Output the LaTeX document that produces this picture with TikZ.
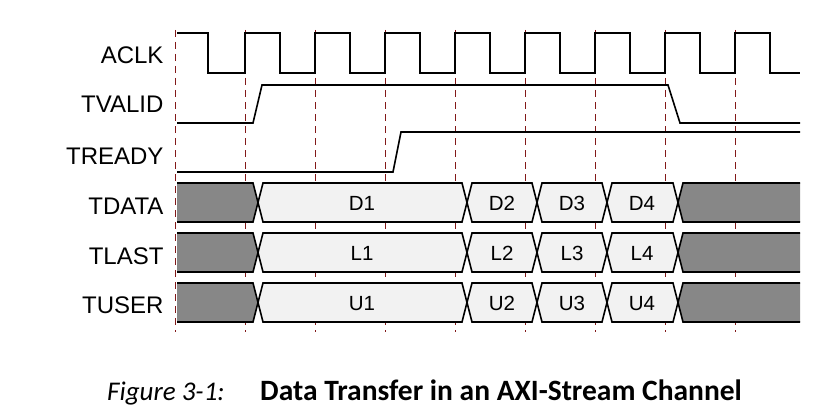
\documentclass[tikz,border=0pt]{standalone}
\usepackage{fontspec}
\setmainfont{Liberation Sans}
\newfontfamily\capfont{Carlito}
\definecolor{gridred}{RGB}{130,25,25}
\begin{document}
\begin{tikzpicture}[x=1pt,y=-1pt,
  wave/.style={line width=1.6pt,line join=miter},
  grid/.style={draw=gridred,line width=0.9pt,dash pattern=on 7pt off 5pt},
  sig/.style={anchor=base east,font=\fontsize{24}{24}\selectfont},
  val/.style={anchor=base,font=\fontsize{20.5}{20}\selectfont},
  busv/.style={draw=black,line width=1.6pt,fill=gray!10,line join=miter}]
\useasboundingbox (0,0) rectangle (833,412);
\foreach \x in {175,245,...,735} \draw[grid] (\x,30) -- (\x,332);
% labels
\node[sig] (aclk) at (167,64) {ACLK};
\node[sig] (tvalid) at (167,113) {TVALID};
\node[sig] (tready) at (167,164) {TREADY};
\node[sig] (tdata) at (167,214) {TDATA};
\node[sig] (tlast) at (167,264) {TLAST};
\node[sig] (tuser) at (167,313) {TUSER};
% clock
\draw[wave] (177,33) -- (208,33) -- (208,73) -- (245,73)
  \foreach \x in {245,315,385,455,525,595,665} { -- (\x,33) -- (\x+35,33) -- (\x+35,73) -- (\x+70,73) }
  -- (735,33) -- (770,33) -- (770,73) -- (800,73);
\draw[wave] (177,123) -- (253,123) -- (262,85) -- (668,85) -- (680,123) -- (800,123);
\draw[wave] (177,172) -- (393,172) -- (401,132) -- (800,132);
% buses
\foreach \t/\b in {183/222,233/272,283/322}{
  \pgfmathsetmacro{\m}{(\t+\b)/2}
  \fill[black!47] (177,\t) -- (253,\t) -- (258,\m) -- (253,\b) -- (177,\b) -- cycle;
  \draw[wave] (177,\t) -- (253,\t) -- (258,\m) -- (253,\b) -- (177,\b);
  \fill[black!47] (800,\t) -- (683,\t) -- (678,\m) -- (683,\b) -- (800,\b) -- cycle;
  \draw[wave] (800,\t) -- (683,\t) -- (678,\m) -- (683,\b) -- (800,\b);
  \foreach \a/\c in {258/467,467/537,537/607,607/678}{
    \draw[busv] (\a,\m) -- (\a+5,\t) -- (\c-5,\t) -- (\c,\m) -- (\c-5,\b) -- (\a+5,\b) -- cycle;
  }
}
\node[val] (d1) at (362,210) {D1};
\node[val] (d2) at (502,210) {D2};
\node[val] (d3) at (572,210) {D3};
\node[val] (d4) at (642,210) {D4};
\node[val] (l1) at (362,260) {L1};
\node[val] (l2) at (502,260) {L2};
\node[val] (l3) at (572,260) {L3};
\node[val] (l4) at (642,260) {L4};
\node[val] (u1) at (362,310) {U1};
\node[val] (u2) at (502,310) {U2};
\node[val] (u3) at (572,310) {U3};
\node[val] (u4) at (642,310) {U4};
% caption
\node[anchor=base west,inner sep=0pt,font=\capfont\itshape\fontsize{27}{27}\selectfont] (fig) at (107,400) {Figure 3-1:};
\node[anchor=base west,inner sep=0pt,font=\capfont\bfseries\fontsize{29.5}{28}\selectfont] (cap) at (260,400) {Data Transfer in an AXI-Stream Channel};
\end{tikzpicture}
\end{document}
